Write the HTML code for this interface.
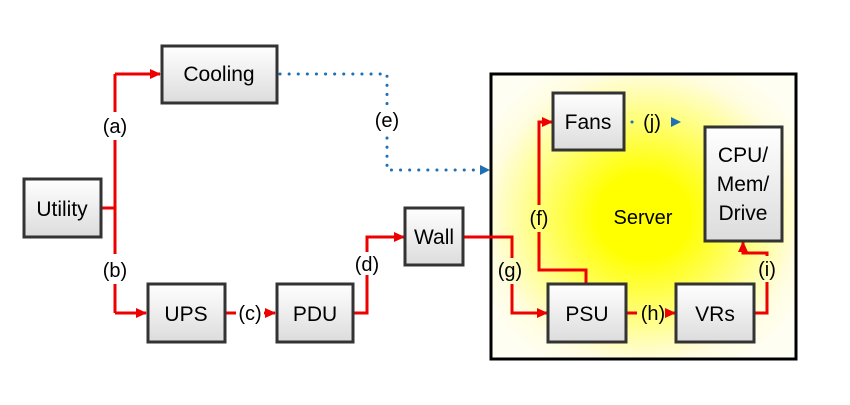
<!DOCTYPE html>
<html><head><style>
body{margin:0;width:850px;height:400px;background:#fff;overflow:hidden}
svg text{font-family:"Liberation Sans",sans-serif}
</style></head><body>
<svg width="850" height="400" viewBox="0 0 850 400">
<defs>
<linearGradient id="bg" x1="0" y1="0" x2="0" y2="1"><stop offset="0" stop-color="#fff"/><stop offset="1" stop-color="#dcdcdc"/></linearGradient>
<radialGradient id="ys" cx="0.5" cy="0.5" r="0.6"><stop offset="0.25" stop-color="#ffff00"/><stop offset="0.85" stop-color="#fffde0"/><stop offset="1" stop-color="#fffef2"/></radialGradient>
<marker id="ar" markerWidth="11" markerHeight="10" refX="10" refY="5" orient="auto" markerUnits="userSpaceOnUse"><path d="M0,0L11,5L0,10z" fill="#e00"/></marker>
</defs>
<rect x="491" y="74" width="305" height="285" fill="url(#ys)" stroke="#000" stroke-width="3"/>
<text x="643" y="224" font-size="20" text-anchor="middle">Server</text>
<g fill="none" stroke="#e00" stroke-width="3">
<path d="M101,208H115M115,74V112M115,140V254M115,284V313" />
<path d="M115,74H160" marker-end="url(#ar)"/>
<path d="M115,313H146" marker-end="url(#ar)"/>
<path d="M225,313H236M264,313H275" marker-end="url(#ar)"/>
<path d="M353,313H367V275M367,252V237H404" marker-end="url(#ar)"/>
<path d="M463,237H512V258M512,284V313H547" marker-end="url(#ar)"/>
<path d="M586,284V270H539V232M539,205V122H552" marker-end="url(#ar)"/>
<path d="M626,313H637M669,313H675" marker-end="url(#ar)"/>
<path d="M754,313H767V282M767,256V253H743V242" marker-end="url(#ar)"/>
</g>
<g fill="none" stroke="#1f6fb5" stroke-width="3" stroke-dasharray="0.1 9" stroke-linecap="round">
<path d="M280,74H387V105M387,138V170H482"/>
<path d="M632,122H638"/>
</g>
<path d="M480,165L490,170L480,175z" fill="#1f6fb5"/>
<path d="M671,117L681,122L671,127z" fill="#1f6fb5"/>
<g font-size="20" text-anchor="middle">
<text x="115" y="133">(a)</text><text x="115" y="277">(b)</text>
<text x="250" y="320">(c)</text><text x="367" y="271">(d)</text>
<text x="387" y="127">(e)</text><text x="539" y="225">(f)</text>
<text x="510" y="277">(g)</text><text x="653" y="320">(h)</text>
<text x="767" y="276">(i)</text><text x="652" y="129">(j)</text>
</g>
<g stroke="#333" stroke-width="3" fill="url(#bg)">
<rect x="162" y="46" width="115" height="57"/>
<rect x="24" y="179" width="77" height="58"/>
<rect x="148" y="284" width="77" height="58"/>
<rect x="277" y="284" width="76" height="58"/>
<rect x="405" y="208" width="58" height="57"/>
<rect x="553" y="93" width="71" height="57"/>
<rect x="705" y="127" width="77" height="114"/>
<rect x="548" y="284" width="78" height="58"/>
<rect x="676" y="284" width="78" height="58"/>
</g>
<g font-size="21" text-anchor="middle">
<text x="219" y="81">Cooling</text>
<text x="62" y="216">Utility</text>
<text x="186" y="321">UPS</text>
<text x="315" y="321">PDU</text>
<text x="434" y="244">Wall</text>
<text x="588" y="129">Fans</text>
<text x="743" y="162">CPU/</text><text x="743" y="191">Mem/</text><text x="743" y="220">Drive</text>
<text x="587" y="321">PSU</text>
<text x="715" y="321">VRs</text>
</g>
</svg>
</body></html>
